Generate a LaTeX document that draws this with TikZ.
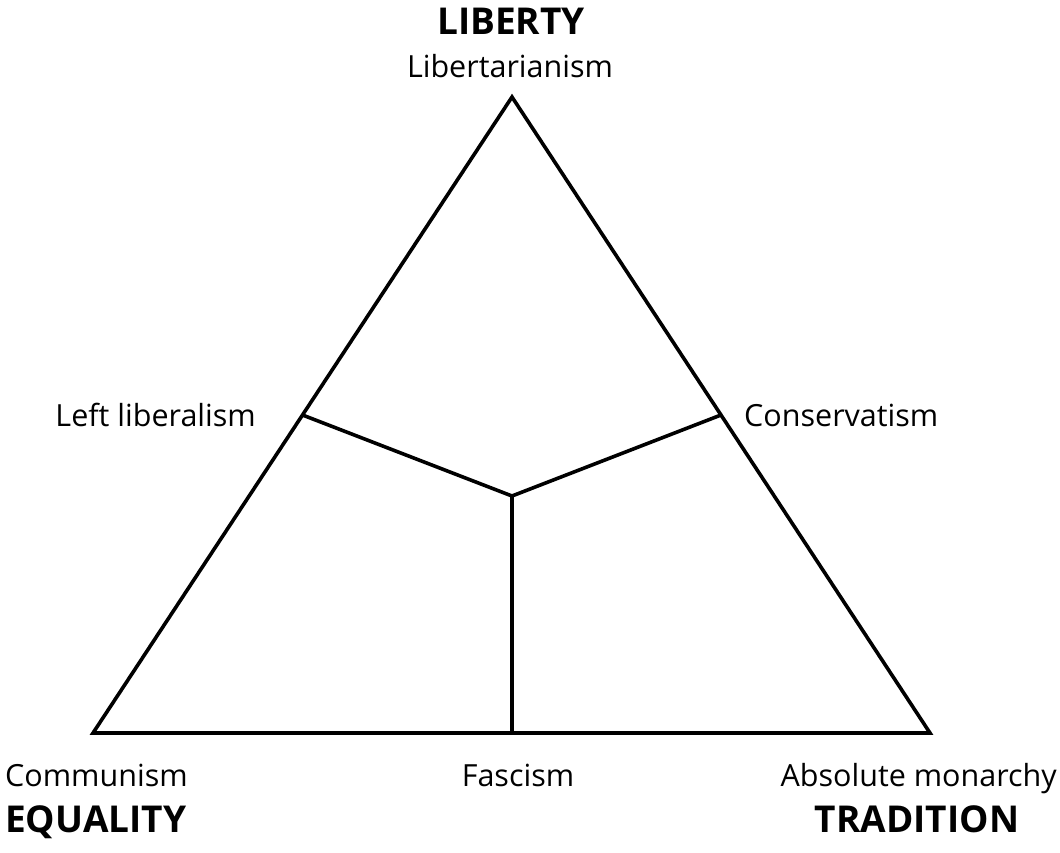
\documentclass[tikz,border=0pt]{standalone}
\usepackage{fontspec}
\setmainfont{Open Sans}
\usetikzlibrary{calc}
\tikzset{
  tri edge/.style={draw=black, line width=3.6pt, line join=miter},
  tri label/.style={inner sep=0pt, font=\fontsize{30.5}{34}\selectfont},
  tri pole/.style={inner sep=0pt, font=\fontsize{37}{42}\selectfont\bfseries},
}
\begin{document}
\begin{tikzpicture}[x=1pt,y=-1pt]
\useasboundingbox (0,0) rectangle (1060,853);
\coordinate (top) at (512,97);\coordinate (left) at (93,733);\coordinate (right) at (930,733);
\coordinate (mid) at (512,496);
\coordinate (ml) at ($(top)!0.5!(left)$);\coordinate (mr) at ($(top)!0.5!(right)$);\coordinate (mb) at (512,733);
\draw[tri edge](top)--(right)--(left)--cycle;
\draw[tri edge](ml)--(mid)--(mr);\draw[tri edge](mid)--(mb);
\node[tri pole,anchor=base](liberty)at(511,35){LIBERTY};
\node[tri label,anchor=base](libert)at(510,78){Libertarianism};
\node[tri label,anchor=base east](leftlib)at(256,426){Left liberalism};
\node[tri label,anchor=base west](cons)at(744,426){Conservatism};
\node[tri label,anchor=base west](comm)at(5,786){Communism};
\node[tri label,anchor=base](fasc)at(518,786){Fascism};
\node[tri label,anchor=base east](absmon)at(1057,786){Absolute monarchy};
\node[tri pole,anchor=base west](equality)at(5,832){EQUALITY};
\node[tri pole,anchor=base](tradition)at(917,832){TRADITION};
\end{tikzpicture}
\end{document}
